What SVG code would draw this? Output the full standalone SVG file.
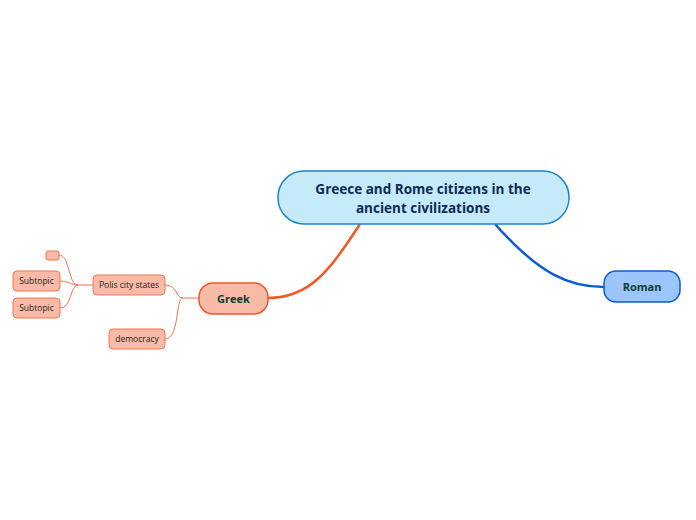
<svg xmlns="http://www.w3.org/2000/svg" width="696" height="520" viewBox="0 0 696 520">
<style>
text{font-family:"Open Sans","Noto Sans",sans-serif;text-anchor:middle}
.sub rect{fill:#f9bba7;stroke:#f0764f;stroke-width:1}
.sub text{font-size:8.5px;fill:#222}
.c{fill:none}
</style>
<rect width="696" height="520" fill="#fff"/>
<g id="connectors" class="c">
<path d="M360,224 C330,270 310,298 268,298" stroke="#ef5a24" stroke-width="2.5"/>
<path d="M495,224 C540,275 570,287 604,287" stroke="#0b5bd1" stroke-width="2.5"/>
<g stroke="#f0764f" stroke-width="1">
<path d="M199,298 H183 C175,298 178,285 165,285"/>
<path d="M183,298 C175,298 180,339 165,339"/>
<path d="M93,285 H78 C68,285 70,255 59,255"/>
<path d="M78,285 C70,285 70,281 60,281"/>
<path d="M78,285 C70,285 72,308 60,308"/>
</g>
</g>
<g id="central">
<rect x="278" y="171" width="291" height="53" rx="26" fill="#c5ebfb" stroke="#1f86c8" stroke-width="1.5"/>
<text x="423" y="194" font-size="13.5" font-weight="bold" fill="#0b2a55">Greece and Rome citizens in the</text>
<text x="423" y="213" font-size="13.5" font-weight="bold" fill="#0b2a55">ancient civilizations</text>
</g>
<g id="roman">
<rect x="604" y="271" width="76" height="31" rx="12" fill="#9cc5fb" stroke="#0b5bd1" stroke-width="1.5"/>
<text x="642" y="291" font-size="11" font-weight="bold" fill="#0b3d2e">Roman</text>
</g>
<g id="greek">
<rect x="199" y="283" width="69" height="31" rx="14" fill="#f9bba7" stroke="#ef5a24" stroke-width="1.5"/>
<text x="233.5" y="302.5" font-size="11" font-weight="bold" fill="#0b3d2e">Greek</text>
</g>
<g id="polis" class="sub"><rect x="93" y="275" width="72" height="20" rx="4"/><text x="129" y="288">Polis city states</text></g>
<g id="democracy" class="sub"><rect x="109" y="329" width="56" height="20" rx="4"/><text x="137" y="342">democracy</text></g>
<g id="sub1" class="sub"><rect x="13" y="271" width="47" height="20" rx="4"/><text x="36.5" y="284">Subtopic</text></g>
<g id="sub2" class="sub"><rect x="13" y="298" width="47" height="20" rx="4"/><text x="36.5" y="311">Subtopic</text></g>
<g id="empty" class="sub"><rect x="46" y="251" width="13" height="9" rx="2"/></g>
</svg>
